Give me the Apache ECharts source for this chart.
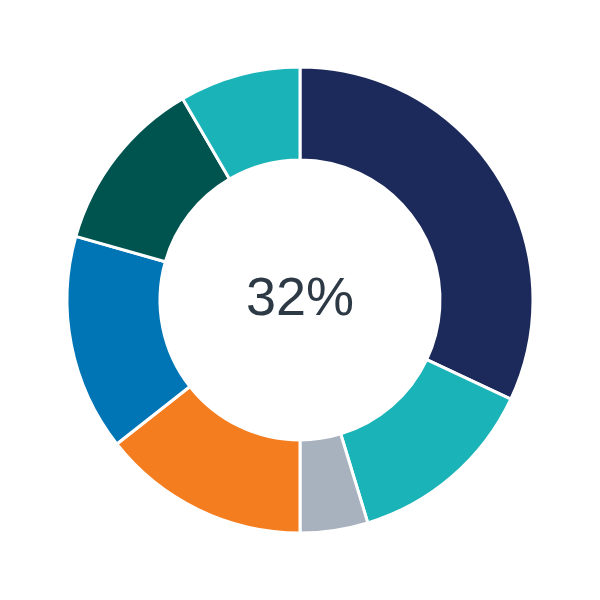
<!DOCTYPE html>
<html>
<head>
<meta charset="utf-8">
<script src="https://cdn.jsdelivr.net/npm/echarts@6/dist/echarts.min.js"></script>
<style>html,body{margin:0;padding:0;background:#fff}#c{width:600px;height:600px}</style>
</head>
<body>
<div id="c"></div>
<script>
const categories = ['A', 'B', 'C', 'D', 'E', 'F', 'G'];
const values = [32, 13.3, 4.7, 14.4, 15, 12.2, 8.4];
const colors = ['#1b2a5a', '#1ab3b8', '#a8b2be', '#f47d20', '#0075b6', '#005450', '#1ab3b8'];
const centerLabel = '32%';

const chart = echarts.init(document.getElementById('c'));
chart.setOption({
  animation: false,
  title: {
    text: centerLabel,
    left: 'center',
    top: 'middle',
    textStyle: { fontFamily: 'Liberation Sans, Arial, sans-serif', fontSize: 54, fontWeight: 'normal', color: '#2d3a46' }
  },
  series: [{
    type: 'pie',
    center: [300, 300],
    radius: [140, 233],
    startAngle: 90,
    clockwise: true,
    label: { show: false },
    labelLine: { show: false },
    itemStyle: { borderColor: '#ffffff', borderWidth: 3 },
    data: categories.map((c, i) => ({ name: c, value: values[i], itemStyle: { color: colors[i] } }))
  }]
});
</script>
</body>
</html>
